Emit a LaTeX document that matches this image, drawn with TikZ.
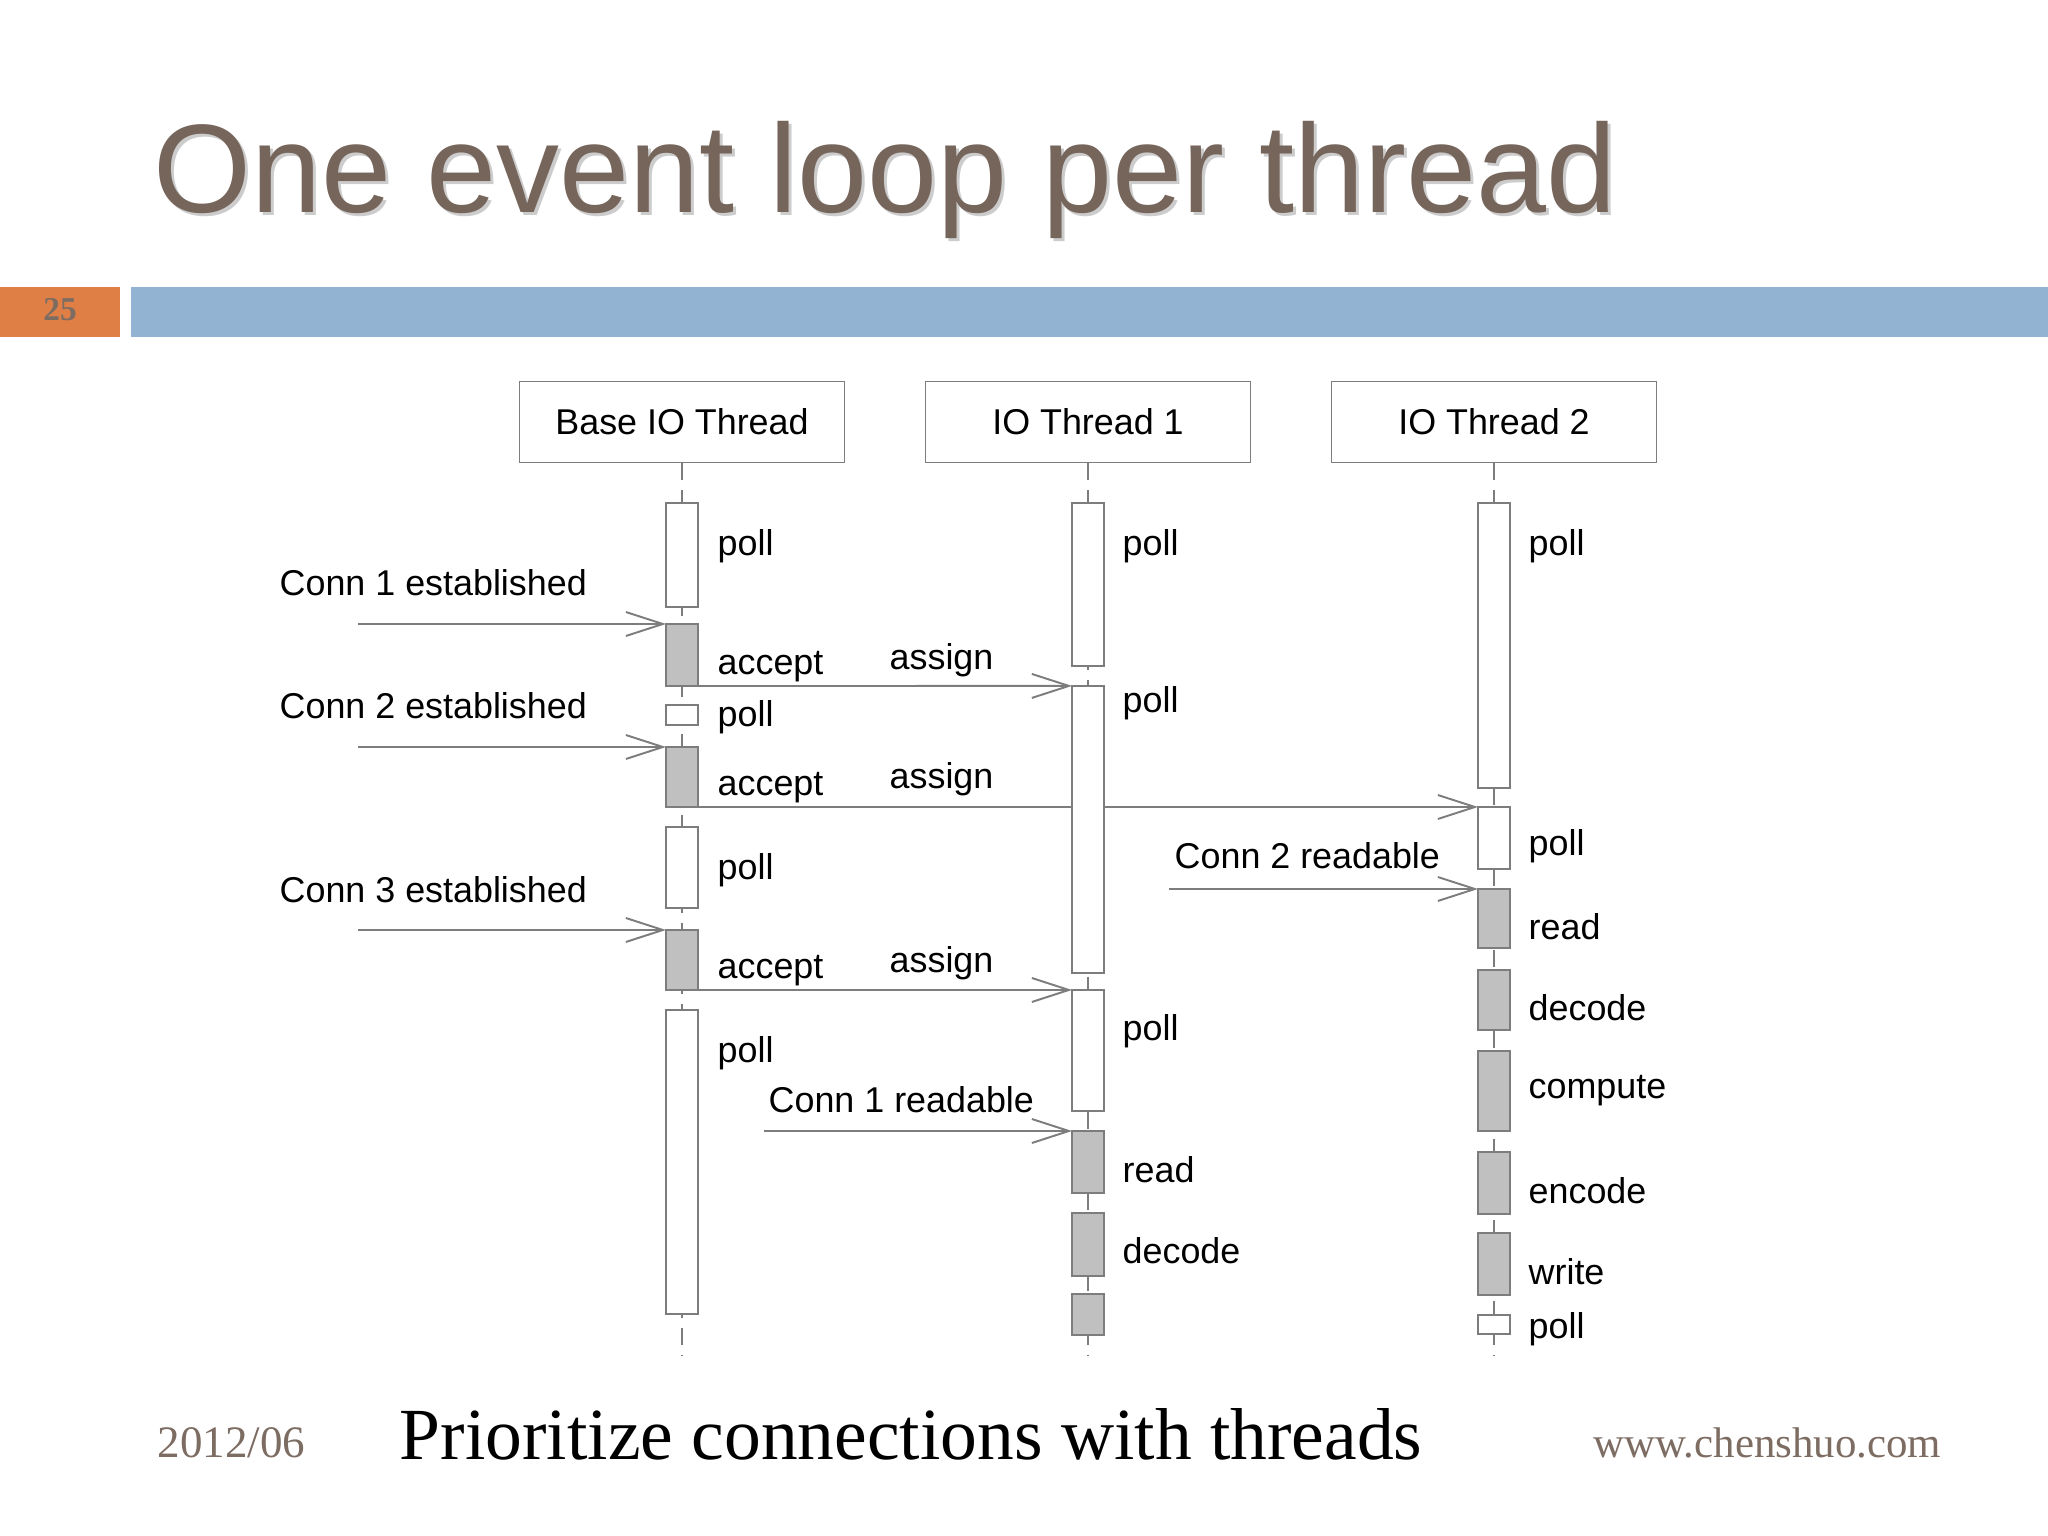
\documentclass[tikz,border=0pt]{standalone}
\usepackage{fontspec}
\setmainfont{Liberation Sans}
\newfontfamily\slideserif{Liberation Serif}
\usetikzlibrary{arrows.meta,positioning}
\usepackage{xcolor}
\definecolor{titlebrown}{RGB}{118,101,91}
\definecolor{footbrown}{RGB}{125,108,98}
\definecolor{barorange}{RGB}{224,127,69}
\definecolor{barblue}{RGB}{147,179,211}
\definecolor{linegray}{RGB}{125,125,125}
\definecolor{busygray}{RGB}{192,192,192}
\pgfdeclarelayer{back}
\pgfsetlayers{back,main}

\begin{document}
\begin{tikzpicture}[
    x=0.01cm,y=-0.01cm,
    lane/.style={rectangle,draw=linegray,line width=0.5pt,fill=white,
                 minimum width=3.25cm,minimum height=0.81cm,
                 font=\fontsize{10.2}{12}\selectfont},
    idle/.style={rectangle,draw=linegray,line width=0.5pt,fill=white,
                 minimum width=0.32cm,inner sep=0pt,outer sep=0pt},
    busy/.style={idle,fill=busygray},
    life/.style={linegray,line width=0.45pt,dash pattern=on 0.17cm off 0.10cm},
    msg/.style={-{Straight Barb[length=0.37cm,width=0.24cm]},linegray,line width=0.55pt},
    lbl/.style={anchor=west,inner sep=0pt,font=\fontsize{10.2}{12}\selectfont},
    foot/.style={anchor=base west,inner sep=0pt,font=\slideserif\fontsize{12.8}{15}\selectfont,text=footbrown}
  ]
    \useasboundingbox (0,0) rectangle (2048,1536);

    % slide title and bars
    \node[anchor=base west,inner sep=0pt,text=black!20,font=\fontsize{35.8}{40}\selectfont] (shadow) at (156,215) {One event loop per thread};
    \node[anchor=base west,inner sep=0pt,text=titlebrown,font=\fontsize{35.8}{40}\selectfont] (title) at (153,212) {One event loop per thread};
    \node[rectangle,fill=barorange,minimum width=1.2cm,minimum height=0.50cm,inner sep=0pt] (pagebar) at (60,312) {};
    \node[text=footbrown,font=\slideserif\bfseries\fontsize{9.5}{11}\selectfont] (pageno) at (60,310) {25};
    \node[rectangle,fill=barblue,minimum width=19.16cm,minimum height=0.50cm,inner sep=0pt] (rulebar) at (1090,312) {};

    % thread heads
    \node[lane] (base) at (682,422) {Base IO Thread};
    \node[lane] (io1) at (1088,422) {IO Thread 1};
    \node[lane] (io2) at (1494,422) {IO Thread 2};

    % base io thread
    \node[idle,minimum height=1.04cm] (b1) at (682,555) {};
    \node[busy,minimum height=0.62cm] (b2) at (682,655) {};
    \node[idle,minimum height=0.20cm] (b3) at (682,715) {};
    \node[busy,minimum height=0.60cm] (b4) at (682,777) {};
    \node[idle,minimum height=0.81cm] (b5) at (682,867.5) {};
    \node[busy,minimum height=0.60cm] (b6) at (682,960) {};
    \node[idle,minimum height=3.04cm] (b7) at (682,1162) {};

    % io thread 1
    \node[idle,minimum height=1.63cm] (t1) at (1088,584.5) {};
    \node[idle,minimum height=2.87cm] (t2) at (1088,829.5) {};
    \node[idle,minimum height=1.21cm] (t3) at (1088,1050.5) {};
    \node[busy,minimum height=0.62cm] (t4) at (1088,1162) {};
    \node[busy,minimum height=0.63cm] (t5) at (1088,1244.5) {};
    \node[busy,minimum height=0.41cm] (t6) at (1088,1314.5) {};

    % io thread 2
    \node[idle,minimum height=2.85cm] (s1) at (1494,645.5) {};
    \node[idle,minimum height=0.62cm] (s2) at (1494,838) {};
    \node[busy,minimum height=0.59cm] (s3) at (1494,918.5) {};
    \node[busy,minimum height=0.60cm] (s4) at (1494,1000) {};
    \node[busy,minimum height=0.80cm] (s5) at (1494,1091) {};
    \node[busy,minimum height=0.62cm] (s6) at (1494,1183) {};
    \node[busy,minimum height=0.62cm] (s7) at (1494,1264) {};
    \node[idle,minimum height=0.19cm] (s8) at (1494,1324.5) {};

    % labels
    \node[lbl] (lb1) at (717,546) {poll};
    \node[lbl] (lb2) at (717,667) {accept};
    \node[lbl] (lb3) at (717,717) {poll};
    \node[lbl] (lb4) at (717,788) {accept};
    \node[lbl] (lb5) at (717,870) {poll};
    \node[lbl] (lb6) at (717,971) {accept};
    \node[lbl] (lb7) at (717,1053) {poll};
    \node[lbl] (lt1) at (1122,546) {poll};
    \node[lbl] (lt2) at (1122,703) {poll};
    \node[lbl] (lt3) at (1122,1031) {poll};
    \node[lbl] (lt4) at (1122,1170) {read};
    \node[lbl] (lt5) at (1122,1251) {decode};
    \node[lbl] (ls1) at (1528,546) {poll};
    \node[lbl] (ls2) at (1528,846) {poll};
    \node[lbl] (ls3) at (1528,927) {read};
    \node[lbl] (ls4) at (1528,1008) {decode};
    \node[lbl] (ls5) at (1528,1091) {compute};
    \node[lbl] (ls6) at (1528,1191) {encode};
    \node[lbl] (ls7) at (1528,1272) {write};
    \node[lbl] (ls8) at (1528,1329) {poll};

    \node[lbl] (e1) at (279,583) {Conn 1 established};
    \node[lbl] (e2) at (279,706) {Conn 2 established};
    \node[lbl] (e3) at (279,890) {Conn 3 established};
    \node[lbl] (a1) at (889,660) {assign};
    \node[lbl] (a2) at (889,779) {assign};
    \node[lbl] (a3) at (889,963) {assign};
    \node[lbl] (r1) at (768,1100) {Conn 1 readable};
    \node[lbl] (r2) at (1174,856) {Conn 2 readable};

    \coordinate (c1) at (358,624);
    \coordinate (c2) at (358,747);
    \coordinate (c3) at (358,930);
    \coordinate (d1) at (764,1131);
    \coordinate (d2) at (1169,889);
    \coordinate (baseend) at (682,1356);
    \coordinate (io1end) at (1088,1356);
    \coordinate (io2end) at (1494,1356);

    \begin{pgfonlayer}{back}
      \fill[white] (0,0) rectangle (2048,1536);
      \draw[life] (base.south) -- (baseend);
      \draw[life] (io1.south) -- (io1end);
      \draw[life] (io2.south) -- (io2end);

      \draw[msg] (c1) -- (b2.north west);
      \draw[msg] (c2) -- (b4.north west);
      \draw[msg] (c3) -- (b6.north west);
      \draw[msg] (b2.south west) -- (t2.north west);
      \draw[msg] (b4.south west) -- (s2.north west);
      \draw[msg] (b6.south west) -- (t3.north west);
      \draw[msg] (d1) -- (t4.north west);
      \draw[msg] (d2) -- (s3.north west);
    \end{pgfonlayer}

    % footer
    \node[foot] (date) at (157,1457) {2012/06};
    \node[anchor=base west,inner sep=0pt,font=\slideserif\fontsize{20.9}{24}\selectfont] (caption) at (399,1459) {Prioritize connections with threads};
    \node[foot,anchor=base east,font=\slideserif\fontsize{12.2}{15}\selectfont] (site) at (1942,1457) {www.chenshuo.com};
  \end{tikzpicture}
\end{document}
